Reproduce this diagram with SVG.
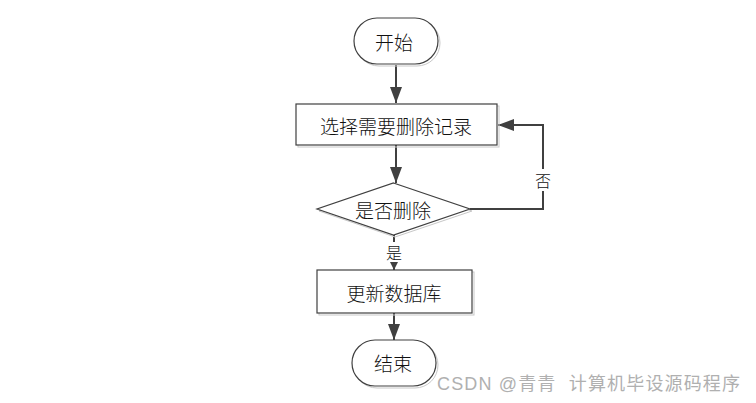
<svg xmlns="http://www.w3.org/2000/svg" width="756" height="403" viewBox="0 0 756 403">
<style>
.shape{fill:#fff;stroke:#404040;stroke-width:1.2}
.shadow{fill:none;stroke:#c8c8c8;stroke-width:1}
.t{font-family:"Noto Sans CJK SC","Liberation Sans",sans-serif;font-size:19px;font-weight:300;fill:#111;text-anchor:middle;dominant-baseline:central}
.lbl{font-family:"Noto Sans CJK SC","Liberation Sans",sans-serif;font-size:16px;font-weight:300;fill:#111;text-anchor:middle;dominant-baseline:central}
.line{fill:none;stroke:#404040;stroke-width:2}
.wm{font-family:"Liberation Sans","Noto Sans CJK SC",sans-serif;font-size:18px;fill:#b0b0b0}
</style>
<defs>
<marker id="ah" viewBox="0 0 16 12" refX="16" refY="6" markerWidth="8" markerHeight="6" orient="auto" markerUnits="strokeWidth">
<path d="M0,0 L16,6 L0,12 z" fill="#404040"/>
</marker>
<marker id="ahs" viewBox="0 0 10 10" refX="10" refY="5" markerWidth="5" markerHeight="5" orient="auto" markerUnits="strokeWidth">
<path d="M0,0 L10,5 L0,10 z" fill="#404040"/>
</marker>
</defs>
<g id="connectors">
<line class="line" x1="396" y1="65" x2="396" y2="103" marker-end="url(#ah)"/>
<line class="line" x1="396" y1="145" x2="396" y2="183" marker-end="url(#ah)"/>
<polyline class="line" points="470,209 543,209 543,125 498,125" marker-end="url(#ah)"/>
<line class="line" x1="394" y1="235" x2="394" y2="270" stroke-width="1.5" marker-end="url(#ahs)"/>
<line class="line" x1="394" y1="313" x2="394" y2="340" marker-end="url(#ah)"/>
<rect x="533" y="169" width="20" height="22" fill="#fff"/>
<text class="lbl" x="543" y="180">否</text>
<rect x="385" y="242" width="18" height="20" fill="#fff"/>
<text class="lbl" x="394" y="252">是</text>
</g>
<g id="start">
<rect class="shadow" x="356" y="20" width="84" height="46" rx="23"/>
<rect class="shape" x="354" y="18" width="84" height="46" rx="23"/>
<text class="t" x="394" y="41">开始</text>
</g>
<g id="select">
<rect class="shadow" x="298" y="106" width="201" height="41"/>
<rect class="shape" x="296" y="104" width="201" height="41"/>
<text class="t" x="396" y="125">选择需要删除记录</text>
</g>
<g id="decide">
<polygon class="shadow" points="395,185 472,211 395,237 319,211"/>
<polygon class="shape" points="393.5,183 470,209 393.5,235 317,209"/>
<text class="t" x="393" y="209">是否删除</text>
</g>
<g id="update">
<rect class="shadow" x="319" y="272" width="155" height="43"/>
<rect class="shape" x="317" y="270" width="155" height="43"/>
<text class="t" x="394" y="292">更新数据库</text>
</g>
<g id="end">
<rect class="shadow" x="354" y="342" width="84" height="46" rx="23"/>
<rect class="shape" x="352" y="340" width="84" height="46" rx="23"/>
<text class="t" x="393" y="362">结束</text>
</g>
<text class="wm" x="437" y="390" xml:space="preserve" textLength="303" lengthAdjust="spacing">CSDN @青青  计算机毕设源码程序</text>
</svg>
